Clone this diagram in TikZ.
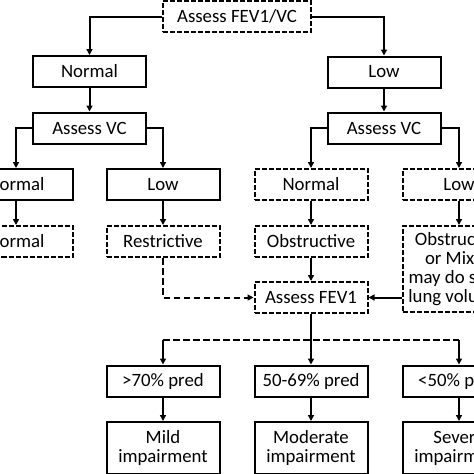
\documentclass[tikz,border=0pt]{standalone}
\usepackage{fontspec}
\setmainfont{Carlito}
\usetikzlibrary{arrows.meta}
\begin{document}
\begin{tikzpicture}[x=1pt,y=-1pt,
  box/.style={draw=black,line width=2pt,minimum width=113pt,minimum height=31pt,inner sep=0pt,align=center,
    font=\fontsize{18.8}{19}\selectfont},
  dbox/.style={box,dash pattern=on 5pt off 2pt},
  arr/.style={line width=2pt,-{Triangle[length=6pt,width=6pt]}},
  ln/.style={line width=2pt},
  dln/.style={line width=2pt,dash pattern=on 6.5pt off 3.5pt}]
\useasboundingbox (0,0) rectangle (474,474);
\fill[white] (0,0) rectangle (474,474);
\begin{scope}
\clip (0,0) rectangle (474,474);
\node[dbox,minimum width=148pt] (fevvc) at (237,16.5) {Assess FEV1/VC};
\node[box] (n2) at (89.5,71.5) {Normal};
\node[box] (low2) at (384,72) {Low};
\node[box] (avc1) at (89.5,128) {Assess VC};
\node[box] (avc2) at (384,128) {Assess VC};
\node[box] (n3a) at (16,184.5) {Normal};
\node[box] (low3a) at (163,184.5) {Low};
\node[dbox] (n3b) at (311,184.5) {Normal};
\node[dbox] (low3b) at (459,184.5) {Low};
\node[dbox] (n4a) at (16,241.5) {Normal};
\node[dbox] (restr) at (163,241.5) {Restrictive};
\node[dbox] (obst) at (311,241.5) {Obstructive};
\node[dbox,minimum height=86pt] (mixed) at (459,269) {Obstructive\\or Mixed\\may do static\\lung volumes};
\node[dbox] (afev1) at (311,297.5) {Assess FEV1};
\node[box] (p70) at (163,381) {>70\% pred};
\node[box] (p50) at (311,381) {50-69\% pred};
\node[box] (p0) at (459,381) {<50\% pred};
\node[box,minimum height=52pt] (mild) at (163,448) {Mild\\impairment};
\node[box,minimum height=52pt] (mod) at (311,448) {Moderate\\impairment};
\node[box,minimum height=52pt] (sev) at (459,448) {Severe\\impairment};
\coordinate (bus) at (311,340);

\draw[arr] (fevvc.west) -| (n2.north);
\draw[arr] (fevvc.east) -| (low2.north);
\draw[arr] (n2) -- (avc1);
\draw[arr] (low2) -- (avc2);
\draw[arr] (avc1.west) -| (n3a.north);
\draw[arr] (avc1.east) -| (low3a.north);
\draw[arr] (avc2.west) -| (n3b.north);
\draw[arr] (avc2.east) -| (low3b.north);
\draw[arr] (n3a) -- (n4a);
\draw[arr] (low3a) -- (restr);
\draw[arr] (n3b) -- (obst);
\draw[arr] (low3b) -- (mixed);
\draw[dln] (restr.south) |- ([xshift=-6pt]afev1.west);
\draw[arr] ([xshift=-7pt]afev1.west) -- (afev1.west);
\draw[arr] (obst) -- (afev1);
\draw[arr] (afev1.east -| mixed.west) -- (afev1.east);
\draw[ln] (afev1.south) -- (bus);
\draw[dln] (p70.north |- bus) -- (p0.north |- bus);
\draw[arr] (p70.north |- bus) -- (p70.north);
\draw[arr] (bus) -- (p50.north);
\draw[arr] (p0.north |- bus) -- (p0.north);
\draw[arr] (p70) -- (mild);
\draw[arr] (p50) -- (mod);
\draw[arr] (p0) -- (sev);
\end{scope}
\end{tikzpicture}
\end{document}
